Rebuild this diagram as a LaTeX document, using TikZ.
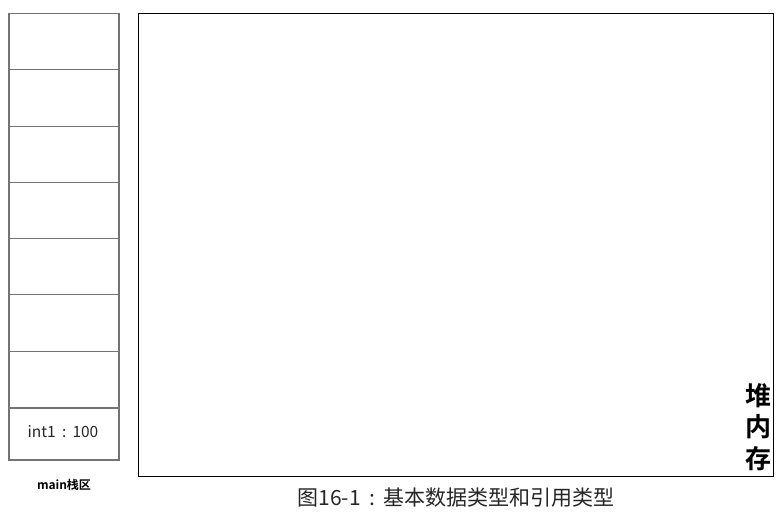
\documentclass[tikz,border=0pt]{standalone}
\usepackage{fontspec}
\setmainfont{Noto Sans CJK SC}
\newfontfamily\cjkb{Noto Sans CJK SC Bold}
\begin{document}
\begin{tikzpicture}[x=1pt,y=-1pt,
  cellbox/.style={draw=black!55,line width=1.5pt,minimum width=110pt,inner sep=0pt,anchor=north west},
  heapbox/.style={draw=black,line width=1pt,inner sep=0pt,anchor=north west,minimum width=635pt,minimum height=463pt},
  lbl/.style={inner sep=0pt,text=black!85}]
\useasboundingbox (0,0) rectangle (780,513);
\node[cellbox,minimum height=56pt] (c1) at (8,13) {};
\node[cellbox,minimum height=57pt] (c2) at (8,69) {};
\node[cellbox,minimum height=56pt] (c3) at (8,126) {};
\node[cellbox,minimum height=56pt] (c4) at (8,182) {};
\node[cellbox,minimum height=56pt] (c5) at (8,238) {};
\node[cellbox,minimum height=57pt] (c6) at (8,294) {};
\node[cellbox,minimum height=56pt] (c7) at (8,351) {};
\node[cellbox,minimum height=52pt] (c8) at (8,407) {};
\node[lbl,font=\fontsize{15.5pt}{16pt}\selectfont] (v) at (63,432) {int1\hspace{0.4em}:\hspace{0.4em}100};
\node[lbl,font=\cjkb\fontsize{12pt}{13pt}\selectfont,text=black] (mainlbl) at (64,485) {main栈区};
\node[heapbox] (heap) at (138,13) {};
\node[lbl,font=\cjkb\fontsize{26pt}{31.5pt}\selectfont,text=black,align=center] (heaplbl) at (758,427) {堆\\内\\存};
\node[lbl,font=\fontsize{21pt}{22pt}\selectfont,text=black!85] (cap) at (456,498) {图16-1\hspace{0.4em}:\hspace{0.4em}基本数据类型和引用类型};
\end{tikzpicture}
\end{document}
